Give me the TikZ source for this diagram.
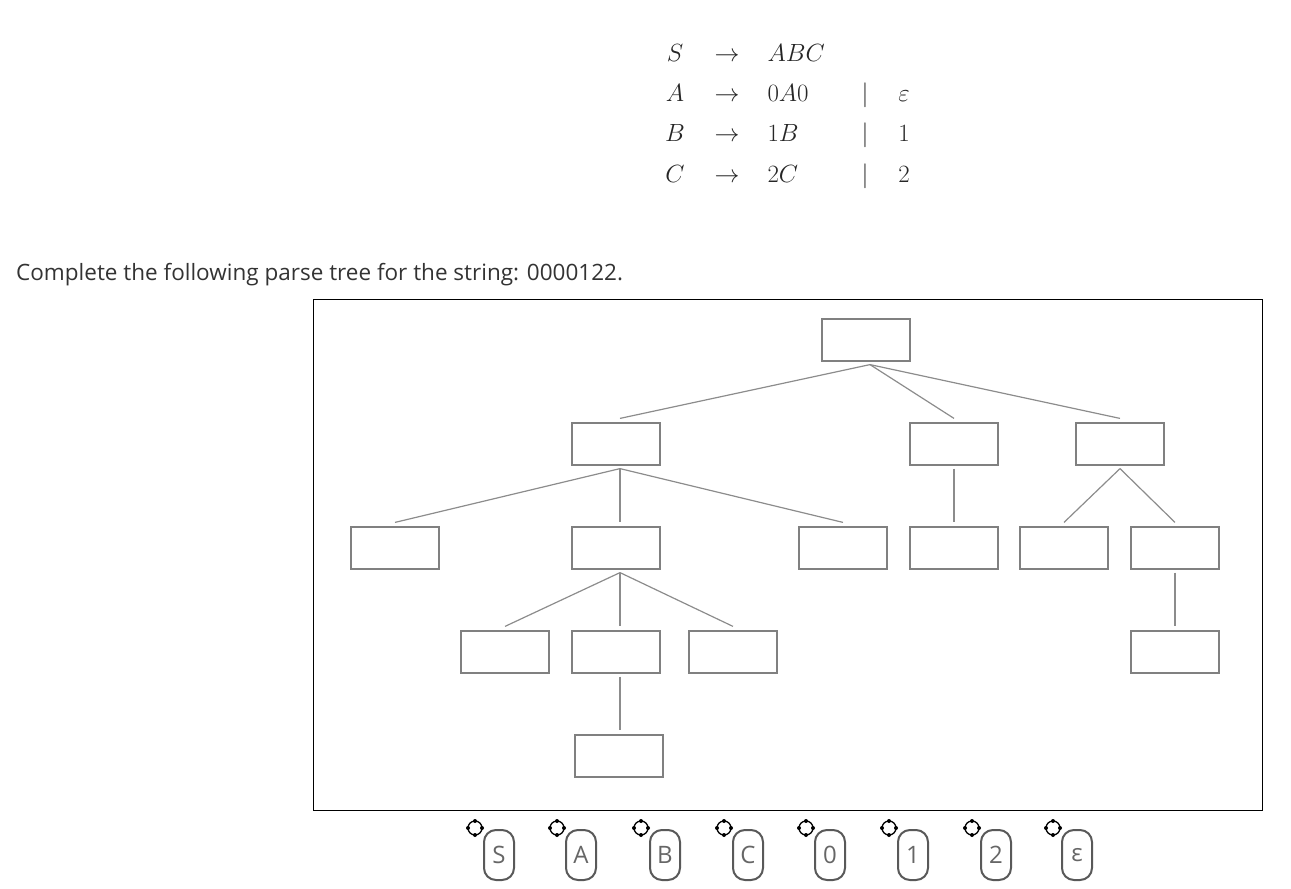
\documentclass[tikz,border=0pt]{standalone}
\usepackage{fontspec}
\setsansfont{Open Sans}
\begin{document}
\begin{tikzpicture}[x=1pt,y=-1pt,
  bx/.style={draw=black!50,line width=1.2pt,minimum width=88pt,minimum height=42pt,inner sep=0pt},
  ed/.style={draw=black!45,line width=1.2pt},
  pill/.style={draw=black!65,line width=2pt,rounded corners=12pt,minimum width=30pt,minimum height=50pt,inner sep=0pt,font=\sffamily\fontsize{24}{26}\selectfont,text=black!60},
  gr/.style={font=\fontsize{28}{30}\selectfont,anchor=base west,text=black!85}]
\useasboundingbox (0,0) rectangle (1291,889);
% grammar
\foreach \l/\r/\y in {S/ABC/61,A/0A0/101,B/1B/141,C/2C/182}{
  \node[gr,anchor=base] (l\y) at (675,\y) {$\l$};
  \node[gr,anchor=base] (ar\y) at (727,\y) {$\rightarrow$};
  \node[gr] (r\y) at (764,\y) {$\r$};
}
\foreach \a/\y in {\varepsilon/101,1/141,2/182}{
  \node[gr,anchor=base] (b\y) at (865,\y) {$|$};
  \node[gr,anchor=base] (e\y) at (904,\y) {$\a$};
}
\node[anchor=base west,font=\sffamily\fontsize{22.5}{26}\selectfont,text=black!80,inner sep=0pt] (q) at (16,280) {Complete the following parse tree for the string: 0000122.};
\node[draw=black,line width=0.8pt,minimum width=949pt,minimum height=511pt,inner sep=0pt] (frame) at (788,554.5) {};
% boxes
\node[bx] (r) at (866,340) {};
\node[bx] (a) at (616,444) {};
\node[bx] (b) at (954,444) {};
\node[bx] (c) at (1120,444) {};
\node[bx] (a1) at (395,548) {};
\node[bx] (a2) at (616,548) {};
\node[bx] (a3) at (843,548) {};
\node[bx] (b1) at (954,548) {};
\node[bx] (c1) at (1064,548) {};
\node[bx] (c2) at (1175,548) {};
\node[bx] (d1) at (505,652) {};
\node[bx] (d2) at (616,652) {};
\node[bx] (d3) at (733,652) {};
\node[bx] (c3) at (1175,652) {};
\node[bx] (e1) at (619,756) {};
% edges
\foreach \p/\px/\c/\cx in {r/870/a/620,r/870/b/954,r/870/c/1120,a/620/a1/395,a/620/a2/620,a/620/a3/843,b/954/b1/954,c/1120/c1/1064,c/1120/c2/1175,a2/620/d1/505,a2/620/d2/620,a2/620/d3/733,c2/1175/c3/1175,d2/620/e1/620}{
  \path (\p.south) ++(0,3) coordinate (s\c);
  \path (\c.north) ++(0,-4) coordinate (t\c);
  \draw[ed] (\px,0 |- s\c) -- (\cx,0 |- t\c);
}
% tokens
\foreach \t/\x in {S/499,A/581,B/665,C/748,0/830,1/913,2/996,ε/1077}{
  \node[pill] (p\x) at (\x,855) {\t};
  \node[draw=black,line width=1.3pt,circle,minimum size=14pt,inner sep=0pt] (o\x) at (\x-24,828) {};
  \foreach \dx/\dy in {0/-7,0/7,-7/0,7/0}{\fill (o\x.center) ++(\dx,\dy) circle (2pt);}
}
\end{tikzpicture}
\end{document}
